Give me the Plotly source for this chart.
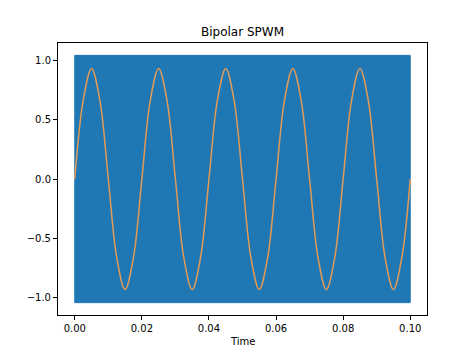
import plotly.graph_objects as go

# ---- data ----
# PWM output envelope (dense switching appears as a solid band)
pwm_time = [0.0, 0.1]
pwm_high = 1.04
pwm_low = -1.04

# reference (modulating) sine, sampled every 1/8 of a 0.02 s period
sine_time = [i * 0.0025 for i in range(41)]
sine_values = [
    0.0, 0.66, 0.93, 0.66, 0.0, -0.66, -0.93, -0.66,
    0.0, 0.66, 0.93, 0.66, 0.0, -0.66, -0.93, -0.66,
    0.0, 0.66, 0.93, 0.66, 0.0, -0.66, -0.93, -0.66,
    0.0, 0.66, 0.93, 0.66, 0.0, -0.66, -0.93, -0.66,
    0.0, 0.66, 0.93, 0.66, 0.0, -0.66, -0.93, -0.66,
    0.0,
]

x_ticks = [0.0, 0.02, 0.04, 0.06, 0.08, 0.10]
y_ticks = [-1.0, -0.5, 0.0, 0.5, 1.0]
title_text = "Bipolar SPWM"
x_label = "Time"

BLUE = "#1f77b4"
ORANGE = "#e39a55"
FONT = "DejaVu Sans"

fig = go.Figure()
band_x = [pwm_time[0], pwm_time[1], pwm_time[1], pwm_time[0], pwm_time[0]]
band_y = [pwm_low, pwm_low, pwm_high, pwm_high, pwm_low]
fig.add_trace(go.Scatter(
    x=band_x, y=band_y, mode="lines", fill="toself",
    fillcolor=BLUE, line=dict(color=BLUE, width=1), hoverinfo="skip",
    showlegend=False,
))
fig.add_trace(go.Scatter(
    x=sine_time, y=sine_values, mode="lines",
    line=dict(color=ORANGE, width=1.5, shape="spline", smoothing=1.0),
    showlegend=False,
))

span = pwm_high - pwm_low
ymin = pwm_low - 0.05 * span
ymax = pwm_high + 0.05 * span
xspan = pwm_time[1] - pwm_time[0]
xmin = pwm_time[0] - 0.05 * xspan
xmax = pwm_time[1] + 0.05 * xspan

axis_common = dict(
    showline=True, linecolor="black", linewidth=1, mirror=True,
    ticks="outside", ticklen=4, tickwidth=1, tickcolor="black",
    showgrid=False, zeroline=False,
    tickfont=dict(family=FONT, size=10, color="black"),
)
fig.update_xaxes(range=[xmin, xmax], tickvals=x_ticks, tickformat=".2f", **axis_common)
fig.update_yaxes(range=[ymin, ymax], tickvals=y_ticks, tickformat=".1f", **axis_common)

fig.add_annotation(
    text=title_text, xref="paper", yref="paper", x=0.5, y=1,
    xanchor="center", yanchor="bottom", yshift=2, showarrow=False,
    font=dict(family=FONT, size=12, color="black"),
)
fig.add_annotation(
    text=x_label, xref="paper", yref="paper", x=0.5, y=0,
    xanchor="center", yanchor="top", yshift=-19, showarrow=False,
    font=dict(family=FONT, size=10, color="black"),
)

fig.update_layout(
    width=474, height=354,
    margin=dict(l=58, r=47, t=43, b=39),
    paper_bgcolor="white", plot_bgcolor="white",
    showlegend=False,
)

fig.write_html("out.html")
